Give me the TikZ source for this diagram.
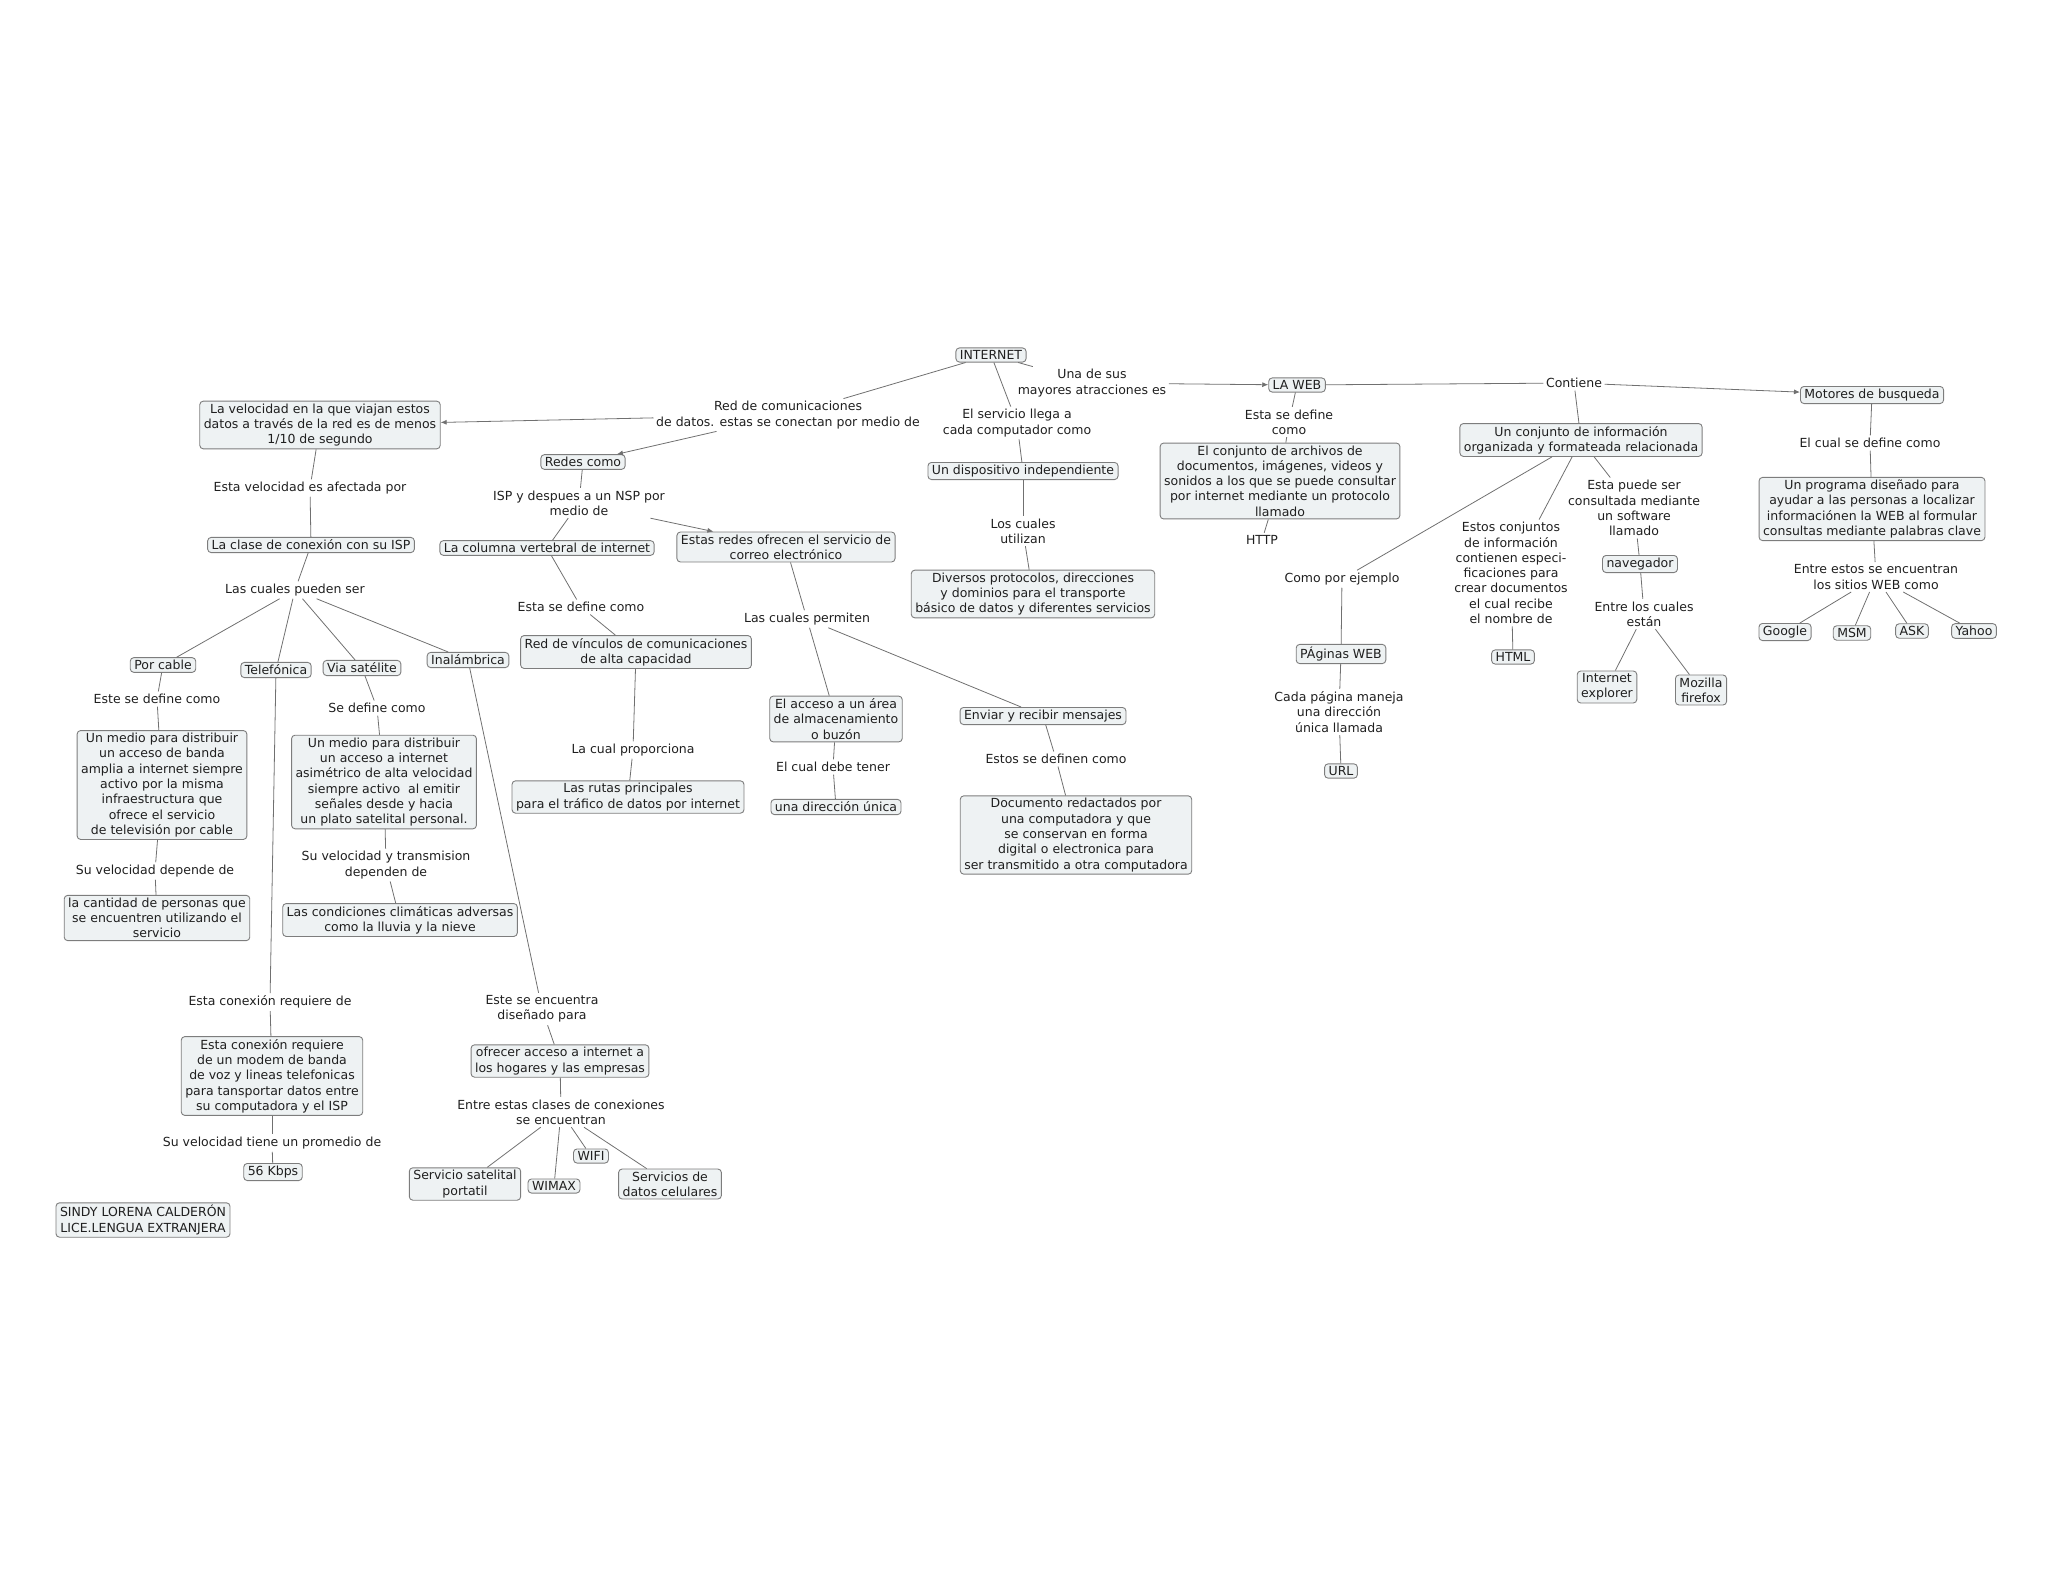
\documentclass[tikz,border=0pt]{standalone}
\usepackage{fontspec}
\setmainfont{DejaVu Sans}
\usetikzlibrary{arrows.meta}
\definecolor{cmapfill}{RGB}{238,242,243}
\definecolor{cmapedge}{RGB}{125,125,125}
\definecolor{cmapline}{RGB}{112,112,112}
\begin{document}
\begin{tikzpicture}[x=1pt,y=-1pt,
    every node/.style={font=\fontsize{12.5}{15.3}\selectfont, text=black!88, align=center},
    concept/.style={draw=cmapedge, fill=cmapfill, rounded corners=3.5pt, inner xsep=4pt, inner ysep=2.5pt, line width=0.9pt},
    phrase/.style={inner sep=2.5pt},
    tip/.style={-{Latex[length=6pt,width=5pt]}}]
  \useasboundingbox (0,0) rectangle (2048,1584);
  \draw
    (991,355) node[concept] (internet){INTERNET}
    (788,415) node[phrase] (redlbl){Red de comunicaciones\\de datos. estas se conectan por medio de}
    (1017,423) node[phrase] (servlbl){El servicio llega a\\cada computador como}
    (1092,383) node[phrase] (atraclbl){Una de sus\\mayores atracciones es}
    (1297,385) node[concept] (laweb){LA WEB}
    (1289,422) node[phrase] (defweblbl){Esta se define\\como}
    (1280,481) node[concept] (archivos){El conjunto de archivos de\\documentos, imágenes, videos y\\sonidos a los que se puede consultar\\por internet mediante un protocolo\\llamado}
    (1262,540) node[phrase] (http){HTTP}
    (1574,383) node[phrase] (contlbl){Contiene}
    (1872,395) node[concept] (motores){Motores de busqueda}
    (1870,443) node[phrase] (cualdeflbl){El cual se define como}
    (1872,509) node[concept] (programa){Un programa diseñado para\\ayudar a las personas a localizar\\informaciónen la WEB al formular\\consultas mediante palabras clave}
    (1876,577) node[phrase] (sitioslbl){Entre estos se encuentran\\los sitios WEB como}
    (1785,632) node[concept] (google){Google}
    (1852,633) node[concept] (msm){MSM}
    (1912,631) node[concept] (ask){ASK}
    (1974,631) node[concept] (yahoo){Yahoo}
    (1581,440) node[concept] (conjinfo){Un conjunto de información\\organizada y formateada relacionada}
    (1342,579) node[phrase] (ejemplolbl){Como por ejemplo}
    (1341,654) node[concept] (paginas){PÁginas WEB}
    (1339,712) node[phrase] (cadalbl){Cada página maneja\\una dirección\\única llamada}
    (1341,771) node[concept] (url){URL}
    (1511,573) node[phrase] (especlbl){Estos conjuntos\\de información\\contienen especi-\\ficaciones para\\crear documentos\\el cual recibe\\el nombre de}
    (1513,657) node[concept] (html){HTML}
    (1634,508) node[phrase] (consullbl){Esta puede ser\\consultada mediante\\un software\\llamado}
    (1640,564) node[concept] (navegador){navegador}
    (1644,614) node[phrase] (estanlbl){Entre los cuales\\están}
    (1607,687) node[concept] (explorer){Internet\\explorer}
    (1701,690) node[concept] (firefox){Mozilla\\firefox}
    (1023,471) node[concept] (dispositivo){Un dispositivo independiente}
    (1023,531) node[phrase] (usanlbl){Los cuales\\utilizan}
    (1033,594) node[concept] (diversos){Diversos protocolos, direcciones\\y dominios para el transporte\\básico de datos y diferentes servicios}
    (320,425) node[concept] (velocidad){La velocidad en la que viajan estos\\datos a través de la red es de menos\\1/10 de segundo}
    (310,488) node[phrase] (afectlbl){Esta velocidad es afectada por}
    (311,545) node[concept] (clase){La clase de conexión con su ISP}
    (295,590) node[phrase] (puedenlbl){Las cuales pueden ser}
    (163,665) node[concept] (cable){Por cable}
    (276,670) node[concept] (telef){Telefónica}
    (362,668) node[concept] (satel){Via satélite}
    (468,660) node[concept] (inalam){Inalámbrica}
    (157,699) node[phrase] (cabledeflbl){Este se define como}
    (162,785) node[concept] (cablebox){Un medio para distribuir\\un acceso de banda\\amplia a internet siempre\\activo por la misma\\infraestructura que\\ofrece el servicio\\de televisión por cable}
    (155,871) node[phrase] (cablevellbl){Su velocidad depende de}
    (157,918) node[concept] (cantidad){la cantidad de personas que\\se encuentren utilizando el\\servicio}
    (377,708) node[phrase] (sateldeflbl){Se define como}
    (384,782) node[concept] (satelbox){Un medio para distribuir\\un acceso a internet\\asimétrico de alta velocidad\\siempre activo \ al emitir\\señales desde y hacia\\un plato satelital personal.}
    (386,865) node[phrase] (satelvellbl){Su velocidad y transmision\\dependen de}
    (400,920) node[concept] (clima){Las condiciones climáticas adversas\\como la lluvia y la nieve}
    (270,1002) node[phrase] (requierelbl){Esta conexión requiere de}
    (272,1076) node[concept] (modem){Esta conexión requiere\\de un modem de banda\\de voz y lineas telefonicas\\para tansportar datos entre\\su computadora y el ISP}
    (272,1143) node[phrase] (promlbl){Su velocidad tiene un promedio de}
    (273,1172) node[concept] (kbps){56 Kbps}
    (143,1220) node[concept] (autora){SINDY LORENA CALDERÓN\\LICE.LENGUA EXTRANJERA}
    (542,1009) node[phrase] (disenolbl){Este se encuentra\\diseñado para}
    (560,1061) node[concept] (ofrecer){ofrecer acceso a internet a\\los hogares y las empresas}
    (561,1112) node[phrase] (claseslbl){Entre estas clases de conexiones\\se encuentran}
    (465,1184) node[concept] (satport){Servicio satelital\\portatil}
    (554,1186) node[concept] (wimax){WIMAX}
    (591,1156) node[concept] (wifi){WIFI}
    (670,1184) node[concept] (celular){Servicios de\\datos celulares}
    (583,462) node[concept] (redes){Redes como}
    (579,503) node[phrase] (isplbl){ISP y despues a un NSP por\\medio de}
    (547,548) node[concept] (columna){La columna vertebral de internet}
    (786,547) node[concept] (correo){Estas redes ofrecen el servicio de\\correo electrónico}
    (581,607) node[phrase] (defcomolbl){Esta se define como}
    (636,652) node[concept] (vinculos){Red de vínculos de comunicaciones\\de alta capacidad}
    (633,750) node[phrase] (proporlbl){La cual proporciona}
    (628,797) node[concept] (rutas){Las rutas principales\\para el tráfico de datos por internet}
    (807,619) node[phrase] (permitlbl){Las cuales permiten}
    (836,719) node[concept] (acceso){El acceso a un área\\de almacenamiento\\o buzón}
    (833,767) node[phrase] (debelbl){El cual debe tener}
    (836,807) node[concept] (direccion){una dirección única}
    (1043,716) node[concept] (enviar){Enviar y recibir mensajes}
    (1056,759) node[phrase] (definenlbl){Estos se definen como}
    (1076,835) node[concept] (documento){Documento redactados por\\una computadora y que\\se conservan en forma\\digital o electronica para\\ser transmitido a otra computadora};
  \begin{scope}[draw=cmapline, line width=0.8pt]
    \draw (internet) to (redlbl);
    \draw[tip] (redlbl) to (velocidad);
    \draw[tip] (redlbl) to (redes);
    \draw (internet) to (servlbl);
    \draw (servlbl) to (dispositivo);
    \draw (dispositivo) to (usanlbl);
    \draw (usanlbl) to (diversos);
    \draw (internet) to (atraclbl);
    \draw[tip] (atraclbl) to (laweb);
    \draw (laweb) to (defweblbl);
    \draw (defweblbl) to (archivos);
    \draw (archivos) to (http);
    \draw (laweb) to (contlbl);
    \draw[tip] (contlbl) to (motores);
    \draw (contlbl) to (conjinfo);
    \draw (motores) to (cualdeflbl);
    \draw (cualdeflbl) to (programa);
    \draw (programa) to (sitioslbl);
    \draw (sitioslbl) to (google);
    \draw (sitioslbl) to (msm);
    \draw (sitioslbl) to (ask);
    \draw (sitioslbl) to (yahoo);
    \draw (conjinfo) to (ejemplolbl);
    \draw (ejemplolbl) to (paginas);
    \draw (paginas) to (cadalbl);
    \draw (cadalbl) to (url);
    \draw (conjinfo) to (especlbl);
    \draw (especlbl) to (html);
    \draw (conjinfo) to (consullbl);
    \draw (consullbl) to (navegador);
    \draw (navegador) to (estanlbl);
    \draw (estanlbl) to (explorer);
    \draw (estanlbl) to (firefox);
    \draw (velocidad) to (afectlbl);
    \draw (afectlbl) to (clase);
    \draw (clase) to (puedenlbl);
    \draw (puedenlbl) to (cable);
    \draw (puedenlbl) to (telef);
    \draw (puedenlbl) to (satel);
    \draw (puedenlbl) to (inalam);
    \draw (cable) to (cabledeflbl);
    \draw (cabledeflbl) to (cablebox);
    \draw (cablebox) to (cablevellbl);
    \draw (cablevellbl) to (cantidad);
    \draw (satel) to (sateldeflbl);
    \draw (sateldeflbl) to (satelbox);
    \draw (satelbox) to (satelvellbl);
    \draw (satelvellbl) to (clima);
    \draw (telef) to (requierelbl);
    \draw (requierelbl) to (modem);
    \draw (modem) to (promlbl);
    \draw (promlbl) to (kbps);
    \draw (inalam) to (disenolbl);
    \draw (disenolbl) to (ofrecer);
    \draw (ofrecer) to (claseslbl);
    \draw (claseslbl) to (satport);
    \draw (claseslbl) to (wimax);
    \draw (claseslbl) to (wifi);
    \draw (claseslbl) to (celular);
    \draw (redes) to (isplbl);
    \draw (isplbl) to (columna);
    \draw[tip] (isplbl) to (correo);
    \draw (columna) to (defcomolbl);
    \draw (defcomolbl) to (vinculos);
    \draw (vinculos) to (proporlbl);
    \draw (proporlbl) to (rutas);
    \draw (correo) to (permitlbl);
    \draw (permitlbl) to (acceso);
    \draw (permitlbl) to (enviar);
    \draw (acceso) to (debelbl);
    \draw (debelbl) to (direccion);
    \draw (enviar) to (definenlbl);
    \draw (definenlbl) to (documento);
  \end{scope}
\end{tikzpicture}
\end{document}
